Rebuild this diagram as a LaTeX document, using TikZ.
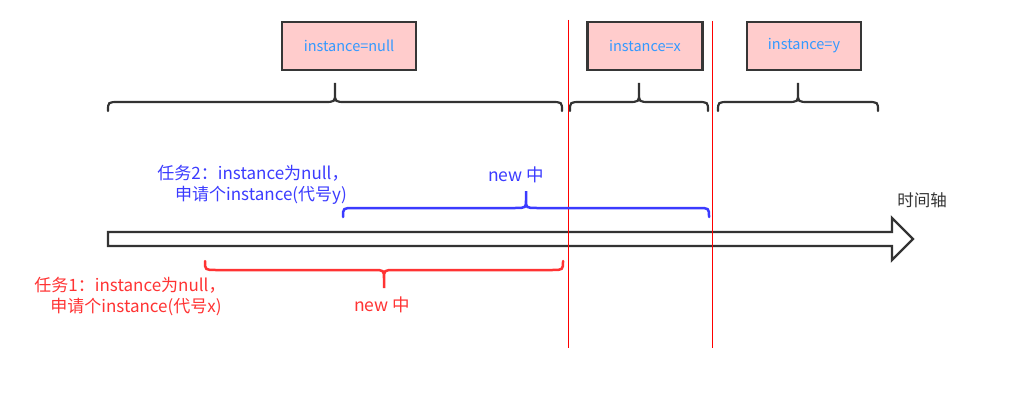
\documentclass[tikz,border=0pt]{standalone}
\usepackage{fontspec}
\setmainfont{Noto Sans CJK SC}
\definecolor{boxfill}{HTML}{FFCCCC}
\definecolor{boxdraw}{HTML}{363636}
\definecolor{boxtext}{HTML}{3399FF}
\definecolor{bluec}{HTML}{3B3BFF}
\definecolor{redc}{HTML}{FF3333}
\definecolor{grayc}{HTML}{333333}
\newcommand\mybrace[7]{%
  % #1 style, #2 x1, #3 x2, #4 xc, #5 yend, #6 yflat, #7 ytip
  \draw[#1] (#2,#5) .. controls (#2,#6) .. ({#2+11},#6) -- ({#4-11},#6)
    .. controls (#4,#6) .. (#4,{(#6+#7)/2}) -- (#4,#7) -- (#4,{(#6+#7)/2})
    .. controls (#4,#6) .. ({#4+11},#6) -- ({#3-11},#6) .. controls (#3,#6) .. (#3,#5);}
\tikzset{
  valbox/.style={draw=boxdraw, line width=2.4pt, fill=boxfill, text=boxtext,
    font=\fontsize{14.5}{16}\selectfont, minimum height=48pt, inner sep=0pt},
  blackbrace/.style={draw=grayc, line width=2.2pt, line cap=round},
  bluebrace/.style={draw=bluec, line width=2.5pt, line cap=round},
  redbrace/.style={draw=redc, line width=2.5pt, line cap=round},
  lbl/.style={font=\fontsize{17}{19}\selectfont, inner sep=0pt},
  newlbl/.style={font=\fontsize{17.5}{19}\selectfont, inner sep=0pt},
  vline/.style={draw=red, line width=1pt},
}
\begin{document}
\begin{tikzpicture}[x=1pt,y=-1pt]
\useasboundingbox (0,0) rectangle (1024,401);
% value boxes
\node[valbox, minimum width=134pt] (bnull) at (349,46) {instance=null};
\node[valbox, minimum width=115pt] (bx) at (645,46) {instance=x};
\node[valbox, minimum width=114pt] (by) at (804,46) {instance=y};
% top braces
\mybrace{blackbrace}{108}{562}{335}{111}{102}{83}
\mybrace{blackbrace}{570}{708}{639}{111}{102}{83}
\mybrace{blackbrace}{718}{878}{798}{111}{102}{83}
% time axis
\coordinate (ts) at (108,232);
\draw[draw=grayc, line width=2.4pt, line join=miter]
  (ts) -- (892,232) -- (892,218) -- (913,239) -- (892,260) -- (892,246) -- (108,246) -- cycle;
\node[font=\fontsize{16.5}{18}\selectfont, inner sep=0pt, text=grayc] (axis) at (922,200) {时间轴};
% red vertical lines
\coordinate (r1t) at (568,20); \coordinate (r1b) at (568,348);
\coordinate (r2t) at (712,21); \coordinate (r2b) at (712,348);
\draw[vline] (r1t) -- (r1b);
\draw[vline] (r2t) -- (r2b);
% task 2 (blue)
\mybrace{bluebrace}{343}{709}{526}{217}{208}{191}
\node[newlbl, text=bluec] (new2) at (516,175) {new 中};
\node[lbl, text=bluec] (t2a) at (253,173) {任务2：instance为null，};
\node[lbl, text=bluec] (t2b) at (261,195) {申请个instance(代号y)};
% task 1 (red)
\mybrace{redbrace}{205}{563}{384}{261}{270}{288}
\node[newlbl, text=redc] (new1) at (382,305) {new 中};
\node[lbl, text=redc] (t1a) at (130,285) {任务1：instance为null，};
\node[lbl, text=redc] (t1b) at (136,307) {申请个instance(代号x)};
\end{tikzpicture}
\end{document}
